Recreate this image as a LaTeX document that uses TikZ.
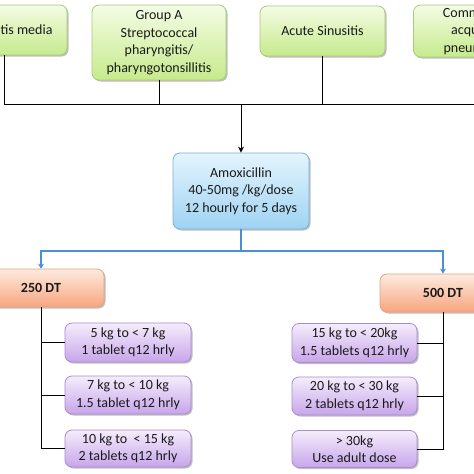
\documentclass[tikz,border=0pt]{standalone}
\usepackage{fontspec}
\setmainfont{Carlito}
\usetikzlibrary{shadows,arrows.meta}
\definecolor{gTop}{HTML}{F4FCE4}
\definecolor{gBot}{HTML}{C6EA8C}
\definecolor{gLine}{HTML}{A9CB78}
\definecolor{bTop}{HTML}{E4F4FD}
\definecolor{bBot}{HTML}{9ED3F3}
\definecolor{bLine}{HTML}{7DB0D6}
\definecolor{oTop}{HTML}{FDEBDF}
\definecolor{oBot}{HTML}{F7A57E}
\definecolor{oLine}{HTML}{E6A283}
\definecolor{pTop}{HTML}{F5EDFC}
\definecolor{pBot}{HTML}{C7A5EA}
\definecolor{pLine}{HTML}{A98CCB}
\definecolor{blueconn}{HTML}{4A8FD0}
\definecolor{txt}{HTML}{1A1A1A}
\begin{document}
\begin{tikzpicture}[x=1pt,y=-1pt,
  every node/.style={font=\fontsize{14}{17.5}\selectfont, text=txt, align=center, inner sep=0pt},
  boxbase/.style={rounded corners=7pt, line width=0.8pt,
    drop shadow={shadow xshift=1.5pt, shadow yshift=-1.5pt, fill=black, opacity=0.25}},
  greenbox/.style={boxbase, draw=gLine, top color=gTop, bottom color=gBot},
  bluebox/.style={boxbase, draw=bLine, top color=bTop, bottom color=bBot},
  orangebox/.style={boxbase, draw=oLine, top color=oTop, bottom color=oBot, font=\fontsize{14}{17}\selectfont\bfseries},
  purplebox/.style={boxbase, draw=pLine, top color=pTop, bottom color=pBot},
  conn/.style={line width=1pt, black},
  bconn/.style={line width=1.2pt, blueconn, -{Stealth[length=5pt,width=6pt]}},
]
\useasboundingbox (0,0) rectangle (474,474);
\clip (0,0) rectangle (474,474);
\fill[white] (0,0) rectangle (474,474);

% top row
\node[greenbox, minimum width=134pt, minimum height=50pt] (b1) at (0,30) {Acute Otitis media};
\node[greenbox, minimum width=134pt, minimum height=75pt] (b2) at (159,42.5) {Group A\\Streptococcal\\pharyngitis/\\pharyngotonsillitis};
\node[greenbox, minimum width=125pt, minimum height=50pt] (b3) at (322.5,31) {Acute Sinusitis};
\node[greenbox, minimum width=125pt, minimum height=52pt] (b4) at (476,31) {Community\\acquired\\pneumonia};

\coordinate (bus) at (241,104);
\draw[conn] ([xshift=4pt]b1.south) |- (bus);
\draw[conn] (b2.south) |- (bus);
\draw[conn] (b3.south) |- (bus);
\draw[conn] (b4.south) |- (bus);

% amoxicillin
\node[bluebox, minimum width=136pt, minimum height=76pt] (amox) at (241,191) {Amoxicillin\\40-50mg /kg/dose\\12 hourly for 5 days};
\draw[conn, -{Stealth[length=6pt,width=6pt]}] (bus) -- (amox.north);

% dose boxes
\node[orangebox, minimum width=126pt, minimum height=38pt] (d250) at (41,288) {250 DT};
\node[orangebox, minimum width=126pt, minimum height=38pt] (d500) at (443,293) {500 DT};

\coordinate (split) at (241,251);
\draw[line width=1.2pt, blueconn] (amox.south) -- (split);
\draw[bconn] (split) -| (d250.north);
\draw[bconn] (split) -| (d500.north);

% weight boxes left
\node[purplebox, minimum width=126pt, minimum height=39pt] (p1) at (128,342.5) {5 kg to < 7 kg\\1 tablet q12 hrly};
\node[purplebox, minimum width=126pt, minimum height=38pt] (p2) at (128,395) {7 kg to < 10 kg\\1.5 tablet q12 hrly};
\node[purplebox, minimum width=126pt, minimum height=37pt] (p3) at (128,448.5) {10 kg to\ \ < 15 kg\\2 tablets q12 hrly};

% weight boxes right
\node[purplebox, minimum width=125pt, minimum height=39pt] (q1) at (354.5,343) {15 kg to < 20kg\\1.5 tablets q12 hrly};
\node[purplebox, minimum width=125pt, minimum height=38pt] (q2) at (354.5,396) {20 kg to < 30 kg\\2 tablets q12 hrly};
\node[purplebox, minimum width=125pt, minimum height=37pt] (q3) at (354.5,449) {> 30kg\\Use adult dose};

\draw[conn] (d250.south) |- (p1.west);
\draw[conn] (d250.south) |- (p2.west);
\draw[conn] (d250.south) |- (p3.west);
\draw[conn] (d500.south) |- (q1.east);
\draw[conn] (d500.south) |- (q2.east);
\draw[conn] (d500.south) |- (q3.east);
\end{tikzpicture}
\end{document}
